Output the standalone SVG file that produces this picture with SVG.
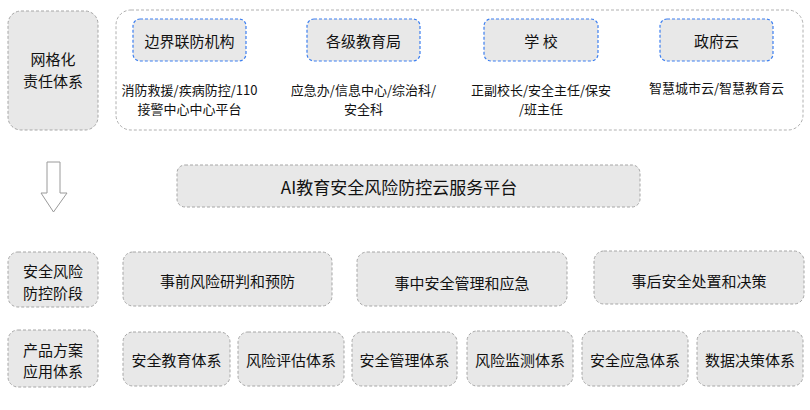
<svg xmlns="http://www.w3.org/2000/svg" width="810" height="410" viewBox="0 0 810 410">
<style>
.g{fill:#e8e8e8;stroke:#a6a6a6;stroke-width:1;stroke-dasharray:3 2}
.w{fill:#ffffff;stroke:#b0b0b0;stroke-width:1;stroke-dasharray:3 2}
.b{fill:#e8e8e8;stroke:#3c7ff0;stroke-width:1.2;stroke-dasharray:3 2}
text{font-family:"Noto Sans CJK SC","Microsoft YaHei",sans-serif;fill:#111111;text-anchor:middle;dominant-baseline:central}
.t15{font-size:15px}
.t13{font-size:13px}
.t17{font-size:17px}
</style>
<rect width="810" height="410" fill="#ffffff"/>
<g id="label-grid">
<rect class="g" x="8" y="11" width="90" height="119" rx="13"/>
<text class="t15" x="53" y="58">网格化</text>
<text class="t15" x="53" y="80">责任体系</text>
</g>
<g id="container">
<rect class="w" x="116" y="10" width="687" height="120" rx="15"/>
</g>
<g id="node-border">
<rect class="b" x="133" y="19" width="113" height="42" rx="7"/>
<text class="t15" x="189.5" y="40">边界联防机构</text>
<text class="t13" x="189.5" y="89">消防救援/疾病防控/110</text>
<text class="t13" x="189.5" y="108">接警中心中心平台</text>
</g>
<g id="node-edu">
<rect class="b" x="307" y="19" width="113" height="42" rx="7"/>
<text class="t15" x="363.5" y="40">各级教育局</text>
<text class="t13" x="363.5" y="89">应急办/信息中心/综治科/</text>
<text class="t13" x="363.5" y="108">安全科</text>
</g>
<g id="node-school">
<rect class="b" x="484" y="19" width="114" height="42" rx="7"/>
<text class="t15" x="541" y="40">学 校</text>
<text class="t13" x="541" y="89">正副校长/安全主任/保安</text>
<text class="t13" x="541" y="108">/班主任</text>
</g>
<g id="node-gov">
<rect class="b" x="660" y="19" width="113" height="42" rx="7"/>
<text class="t15" x="716.5" y="40">政府云</text>
<text class="t13" x="716.5" y="87">智慧城市云/智慧教育云</text>
</g>
<g id="connectors">
<path d="M47,162 H60 V193 H67 L53.5,212 L41,193 H47 Z" fill="#ffffff" stroke="#9a9a9a" stroke-width="1"/>
</g>
<g id="node-platform">
<rect class="g" x="177" y="165" width="463" height="42" rx="8"/>
<text class="t17" x="399" y="186">AI教育安全风险防控云服务平台</text>
</g>
<g id="label-stage">
<rect class="g" x="8" y="252" width="90" height="55" rx="10"/>
<text class="t15" x="53" y="270">安全风险</text>
<text class="t15" x="53" y="292">防控阶段</text>
</g>
<g id="stage-pre">
<rect class="g" x="123" y="252" width="209" height="54" rx="10"/>
<text class="t15" x="227.5" y="280">事前风险研判和预防</text>
</g>
<g id="stage-mid">
<rect class="g" x="357" y="252" width="210" height="54" rx="10"/>
<text class="t15" x="462" y="282">事中安全管理和应急</text>
</g>
<g id="stage-post">
<rect class="g" x="594" y="251" width="210" height="53" rx="10"/>
<text class="t15" x="699" y="280">事后安全处置和决策</text>
</g>
<g id="label-product">
<rect class="g" x="8" y="330" width="90" height="57" rx="10"/>
<text class="t15" x="53" y="349">产品方案</text>
<text class="t15" x="53" y="370">应用体系</text>
</g>
<g id="p1">
<rect class="g" x="123" y="332" width="107" height="54" rx="10"/>
<text class="t15" x="176.5" y="359">安全教育体系</text>
</g>
<g id="p2">
<rect class="g" x="238" y="332" width="106" height="54" rx="10"/>
<text class="t15" x="291" y="359">风险评估体系</text>
</g>
<g id="p3">
<rect class="g" x="352" y="332" width="105" height="54" rx="10"/>
<text class="t15" x="404.5" y="359">安全管理体系</text>
</g>
<g id="p4">
<rect class="g" x="467" y="331" width="106" height="55" rx="10"/>
<text class="t15" x="520" y="359">风险监测体系</text>
</g>
<g id="p5">
<rect class="g" x="582" y="331" width="106" height="55" rx="10"/>
<text class="t15" x="635" y="359">安全应急体系</text>
</g>
<g id="p6">
<rect class="g" x="697" y="331" width="106" height="55" rx="10"/>
<text class="t15" x="750" y="359">数据决策体系</text>
</g>
</svg>
